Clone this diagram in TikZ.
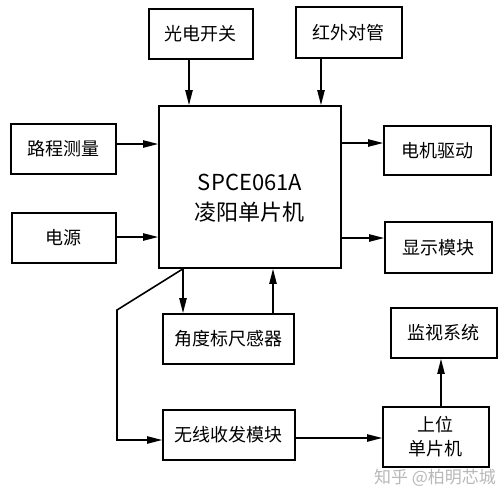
\documentclass[tikz,border=0pt]{standalone}
\usepackage{fontspec}
\setmainfont{Noto Sans CJK SC}
\usetikzlibrary{arrows.meta,calc}

\begin{document}
\begin{tikzpicture}[x=0.5pt,y=-0.5pt]

    \tikzset{
      block/.style={
        draw,
        line width=0.8pt,
        inner sep=0pt,
        align=center,
        font=\fontsize{9}{12}\selectfont,
      },
      link/.style={
        line width=0.8pt,
        -{Triangle[length=7.5pt,width=3.6pt]},
      },
    }
    \useasboundingbox (0,0) rectangle (500,500);
	\node[block,minimum width=52pt,minimum height=25pt] (gdkg) at (201,34) {光电开关};
	\node[block,minimum width=53pt,minimum height=25.5pt] (hwdg) at (349,32.5) {红外对管};
	\node[block,minimum width=91pt,minimum height=81pt] (mcu) at (250,187) {};
	\node[font=\fontsize{11}{15}\selectfont,align=center] (mcutxt) at (250,198) {SPCE061A\\凌阳单片机};
	\node[block,minimum width=52.5pt,minimum height=25pt] (lccl) at (63.5,149) {路程测量};
	\node[block,minimum width=52pt,minimum height=25pt] (dy) at (64,238) {电源};
	\node[block,minimum width=53.5pt,minimum height=24.5pt] (djqd) at (437.5,150.5) {电机驱动};
	\node[block,minimum width=53.5pt,minimum height=25.5pt] (xsmk) at (438.5,247.5) {显示模块};
	\node[block,minimum width=65.5pt,minimum height=25pt] (jdcg) at (228.5,339) {角度标尺感器};
	\node[block,minimum width=66pt,minimum height=25pt] (wxsf) at (229,435) {无线收发模块};
	\node[block,minimum width=53pt,minimum height=30pt] (swj) at (436,437) {上位\\单片机};
	\node[block,minimum width=53pt,minimum height=25pt] (jksys) at (444,333) {监视系统};
	\node[text=black!28,font=\fontsize{8.5}{10}\selectfont] (wm) at (435,478) {知乎 @柏明芯城};

	\draw[link] ($(gdkg.south)+(-12,0)$) coordinate (a1) -- (a1 |- mcu.north);
	\draw[link] ($(hwdg.south)+(-28,0)$) coordinate (a2) -- (a2 |- mcu.north);
	\draw[link] ($(lccl.east)+(0,-5)$) coordinate (a3) -- (a3 -| mcu.west);
	\draw[link] ($(dy.east)+(0,-1)$) coordinate (a4) -- (a4 -| mcu.west);
	\draw[link] ($(djqd.west)+(0,-7.5)$) coordinate (a5) (a5 -| mcu.east) -- (a5);
	\draw[link] ($(xsmk.west)+(0,-9.5)$) coordinate (a6) (a6 -| mcu.east) -- (a6);
	\draw[link] ($(jdcg.north)+(-45.5,0)$) coordinate (a7) (a7 |- mcu.south) -- (a7);
	\draw[link] ($(jdcg.north)+(44.5,0)$) coordinate (a8) -- (a8 |- mcu.south);
	\coordinate (k1) at (117,310);
	\draw[link] ($(wxsf.west)+(0,5)$) coordinate (a9) (a7 |- mcu.south) -- (k1) -- (k1 |- a9) -- (a9);
	\draw[link] ($(wxsf.east)+(0,3)$) coordinate (a10) -- (a10 -| swj.west);
	\draw[link] ($(swj.north)+(5,0)$) coordinate (a11) -- (a11 |- jksys.south);

\end{tikzpicture}
\end{document}
